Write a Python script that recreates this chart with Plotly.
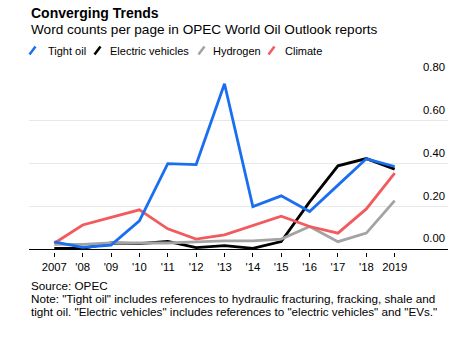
import plotly.graph_objects as go

years = list(range(2007, 2020))
year_labels = ["2007", "'08", "'09", "'10", "'11", "'12", "'13", "'14", "'15", "'16", "'17", "'18", "2019"]

tight_oil = [0.035, 0.010, 0.020, 0.133, 0.400, 0.396, 0.773, 0.200, 0.250, 0.177, 0.300, 0.423, 0.387]
electric_vehicles = [0.005, 0.005, 0.030, 0.027, 0.037, 0.008, 0.018, 0.005, 0.037, 0.222, 0.390, 0.424, 0.375]
hydrogen = [0.024, 0.024, 0.030, 0.030, 0.030, 0.035, 0.040, 0.040, 0.048, 0.107, 0.036, 0.076, 0.228]
climate = [0.029, 0.114, 0.150, 0.185, 0.096, 0.048, 0.068, 0.111, 0.155, 0.107, 0.076, 0.189, 0.356]

y_ticks = [0.0, 0.2, 0.4, 0.6, 0.8]
y_tick_labels = ["0.00", "0.20", "0.40", "0.60", "0.80"]

series = [
    ("Electric vehicles", electric_vehicles, "#000000"),
    ("Hydrogen", hydrogen, "#a3a3a3"),
    ("Climate", climate, "#f25a5d"),
    ("Tight oil", tight_oil, "#1a6ff0"),
]
legend_order = ["Tight oil", "Electric vehicles", "Hydrogen", "Climate"]
colors = {name: c for name, _, c in series}

FONT = "Liberation Sans, Arial, sans-serif"
W, H = 474, 338
ML, MR, MT, MB = 29, 26, 78, 86

fig = go.Figure()
for name, vals, color in series:
    fig.add_trace(go.Scatter(x=years, y=vals, mode="lines", name=name,
                             line=dict(color=color, width=2.8), showlegend=False))

fig.update_layout(
    width=W, height=H,
    margin=dict(l=ML, r=MR, t=MT, b=MB),
    paper_bgcolor="white", plot_bgcolor="white",
    font=dict(family=FONT, size=11, color="#000000"),
    xaxis=dict(range=[2006.108, 2020.879], tickvals=years, ticktext=year_labels,
               showgrid=False, zeroline=False, showline=False,
               ticks="outside", ticklen=4, tickcolor="#000000", tickwidth=1,
               tickfont=dict(size=11.3, color="#000000")),
    yaxis=dict(range=[-0.012, 0.8], tickvals=y_ticks, ticktext=y_tick_labels,
               side="right", ticklabelposition="inside top", ticklabeloverflow="allow",
               ticklabelshift=-3,
               showgrid=True, gridcolor="#e8e8e8", gridwidth=1,
               zeroline=True, zerolinecolor="#000000", zerolinewidth=1,
               showline=False, ticks="", tickfont=dict(size=11.3, color="#000000")),
)

def px_x(p):
    return (p - ML) / (W - ML - MR)

def px_y(p):
    return (H - MB - p) / (H - MT - MB)

ann = []
ann.append(dict(text="<b>Converging Trends</b>", x=px_x(29), y=px_y(12.5), xref="paper", yref="paper",
                xanchor="left", yanchor="middle", showarrow=False, font=dict(size=14, family=FONT)))
ann.append(dict(text="Word counts per page in OPEC World Oil Outlook reports", x=px_x(29), y=px_y(29.5),
                xref="paper", yref="paper", xanchor="left", yanchor="middle", showarrow=False,
                font=dict(size=13.6, family=FONT)))

icon_x = {"Tight oil": 29.5, "Electric vehicles": 94.5, "Hydrogen": 198.5, "Climate": 268.5}
text_x = {"Tight oil": 45.5, "Electric vehicles": 107.5, "Hydrogen": 211, "Climate": 282.5}
shapes = []
for name in legend_order:
    ix = icon_x[name]
    shapes.append(dict(type="line", xref="paper", yref="paper",
                       x0=px_x(ix), y0=px_y(54.5), x1=px_x(ix + 6), y1=px_y(46.5),
                       line=dict(color=colors[name], width=2.5)))
    ann.append(dict(text=name, x=px_x(text_x[name]), y=px_y(50.5), xref="paper", yref="paper",
                    xanchor="left", yanchor="middle", showarrow=False, font=dict(size=11, family=FONT)))

notes = [
    ("Source: OPEC", 285),
    ("Note: \"Tight oil\" includes references to hydraulic fracturing, fracking, shale and", 298.5),
    ("tight oil. \"Electric vehicles\" includes references to \"electric vehicles\" and \"EVs.\"", 311),
]
for t, yy in notes:
    ann.append(dict(text=t, x=px_x(29), y=px_y(yy), xref="paper", yref="paper",
                    xanchor="left", yanchor="middle", showarrow=False, font=dict(size=11.7, family=FONT)))

fig.update_layout(annotations=ann, shapes=shapes)
fig.write_html("out.html")
